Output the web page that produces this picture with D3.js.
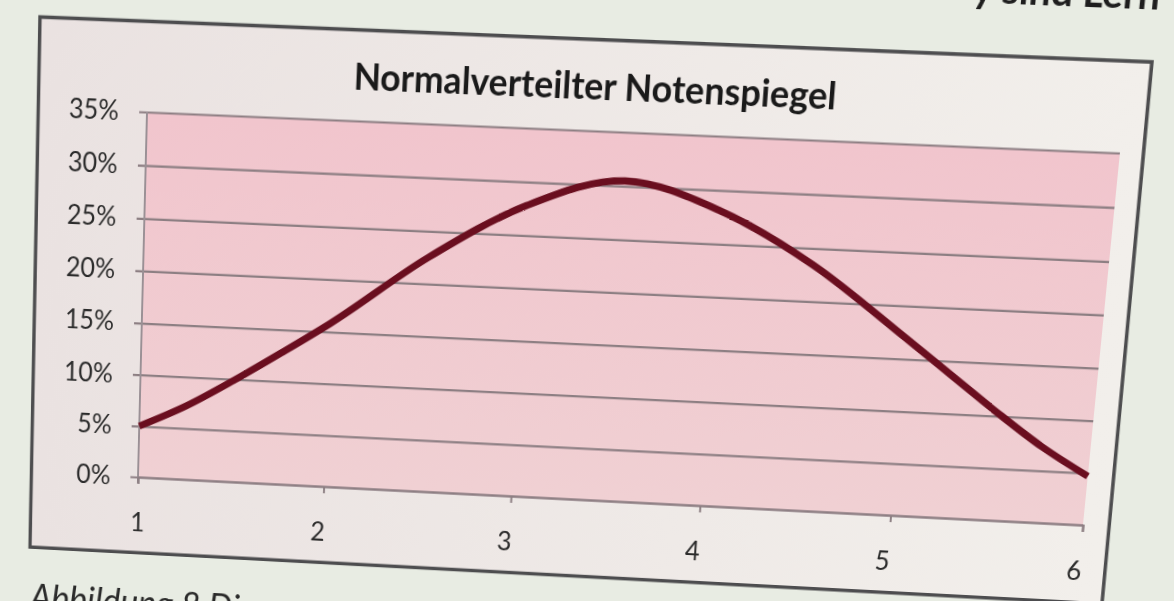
<!DOCTYPE html>
<html>
<head>
<meta charset="utf-8">
<script src="https://cdn.jsdelivr.net/npm/d3@7/dist/d3.min.js"></script>
<style>
  html, body { margin:0; padding:0; width:1174px; height:601px; overflow:hidden; background:#e8ece3; }
  #chart { position:absolute; left:0; top:0; transform-origin:0 0; overflow:visible; }
  text { font-family: Lato, "Open Sans", sans-serif; }
</style>
</head>
<body>
<svg id="chart" width="1174" height="640"></svg>
<script>
// ---------------- data ----------------
const chartTitle = "Normalverteilter Notenspiegel";
const grades = [1, 1.25, 1.5, 1.75, 2, 2.5, 3, 3.5, 4, 4.5, 5, 5.25, 5.5, 5.75, 6];
const shares = [0.050, 0.072, 0.099, 0.128, 0.158, 0.225, 0.278, 0.305, 0.281, 0.234, 0.170, 0.137, 0.104, 0.073, 0.047];
const xTicks = [1, 2, 3, 4, 5, 6];
const yTicks = [0, 0.05, 0.10, 0.15, 0.20, 0.25, 0.30, 0.35];
const pageTextTop = "y sind Lern";
const pageTextBottom = "Abbildung 8 Di";

// ---------------- layout (flat) ----------------
const plot = { x0: 147, y0: 112, x1: 1120, y1: 477 };
// photo corners of plot area (perspective of the photograph)
const plotPhoto = [[147,112],[1120,153],[1083,525],[138,477]];
const framePhoto = [[40,17],[1152,62],[1102,604],[30,547]];

function solve(A, b) {
  const n = b.length;
  for (let i = 0; i < n; i++) {
    let p = i;
    for (let r = i+1; r < n; r++) if (Math.abs(A[r][i]) > Math.abs(A[p][i])) p = r;
    [A[i], A[p]] = [A[p], A[i]]; [b[i], b[p]] = [b[p], b[i]];
    for (let r = i+1; r < n; r++) {
      const f = A[r][i] / A[i][i];
      for (let c = i; c < n; c++) A[r][c] -= f * A[i][c];
      b[r] -= f * b[i];
    }
  }
  const x = new Array(n).fill(0);
  for (let i = n-1; i >= 0; i--) {
    let s = b[i];
    for (let c = i+1; c < n; c++) s -= A[i][c] * x[c];
    x[i] = s / A[i][i];
  }
  return x;
}
function homography(src, dst) {
  const A = [], b = [];
  for (let i = 0; i < 4; i++) {
    const [x,y] = src[i], [u,v] = dst[i];
    A.push([x,y,1,0,0,0,-u*x,-u*y]); b.push(u);
    A.push([0,0,0,x,y,1,-v*x,-v*y]); b.push(v);
  }
  return solve(A, b);
}
function apply(h, [x,y]) {
  const w = h[6]*x + h[7]*y + 1;
  return [(h[0]*x + h[1]*y + h[2]) / w, (h[3]*x + h[4]*y + h[5]) / w];
}
const plotFlat = [[plot.x0,plot.y0],[plot.x1,plot.y0],[plot.x1,plot.y1],[plot.x0,plot.y1]];
const H = homography(plotFlat, plotPhoto);
const Hinv = homography(plotPhoto, plotFlat);
const inv = p => apply(Hinv, p);

const svgEl = document.getElementById("chart");
svgEl.style.transform = `matrix3d(${H[0]},${H[3]},0,${H[6]},${H[1]},${H[4]},0,${H[7]},0,0,1,0,${H[2]},${H[5]},0,1)`;

const svg = d3.select(svgEl);
const defs = svg.append("defs");
const gArea = defs.append("linearGradient").attr("id","areaGrad").attr("x1","0").attr("y1","0").attr("x2","1").attr("y2","0");
gArea.append("stop").attr("offset","0").attr("stop-color","#eae2e1");
gArea.append("stop").attr("offset","1").attr("stop-color","#f2efeb");
const gPlot = defs.append("linearGradient").attr("id","plotGrad").attr("x1","0").attr("y1","0").attr("x2","0").attr("y2","1");
gPlot.append("stop").attr("offset","0").attr("stop-color","#f1c5cd");
gPlot.append("stop").attr("offset","1").attr("stop-color","#f0d0d3");

// chart area frame
const frameFlat = framePhoto.map(inv);
svg.append("polygon").attr("points", frameFlat.map(p => p.join(",")).join(" "))
  .attr("fill", "url(#areaGrad)").attr("stroke", "#4d4d4f").attr("stroke-width", 3.5);

// page texts (cut off at the photo edges, as in the photograph)
const tTop = inv([972, 2]);
svg.append("text").attr("x", tTop[0]).attr("y", tTop[1])
  .attr("font-size", 38).attr("font-weight", 700).attr("fill", "#1e1e1e").text(pageTextTop);
const tBot = inv([30, 609]);
svg.append("text").attr("x", tBot[0]).attr("y", tBot[1])
  .attr("font-size", 36).attr("font-style", "italic")
  .attr("fill", "#2a2a2a").text(pageTextBottom);

// scales
const x = d3.scaleLinear().domain([1, 6]).range([plot.x0, plot.x1]);
const y = d3.scaleLinear().domain([0, 0.35]).range([plot.y1, plot.y0]);

// plot area
svg.append("rect").attr("x", plot.x0).attr("y", plot.y0)
  .attr("width", plot.x1 - plot.x0).attr("height", plot.y1 - plot.y0)
  .attr("fill", "url(#plotGrad)");

// gridlines + y axis
const yAxis = d3.axisLeft(y).tickValues(yTicks).tickSize(-(plot.x1 - plot.x0))
  .tickFormat(d3.format(".0%")).tickPadding(29);
const gy = svg.append("g").attr("transform", `translate(${plot.x0},0)`).call(yAxis);
gy.select(".domain").remove();
gy.selectAll(".tick line").attr("stroke", "#8d7f83").attr("stroke-width", 2.2).attr("x2", plot.x1 - plot.x0).attr("x1", -8);
gy.selectAll(".tick text").attr("font-size", 26).attr("fill", "#2b2b2b").attr("font-family", "Lato, sans-serif");

// y axis line
svg.append("line").attr("x1", plot.x0).attr("x2", plot.x0).attr("y1", plot.y0).attr("y2", plot.y1 + 6)
  .attr("stroke", "#9a9095").attr("stroke-width", 2);

// x axis
const xAxis = d3.axisBottom(x).tickValues(xTicks).tickSize(7).tickPadding(31).tickFormat(d3.format("d"));
const gx = svg.append("g").attr("transform", `translate(0,${plot.y1})`).call(xAxis);
gx.select(".domain").attr("stroke", "#8d7f83").attr("stroke-width", 2.2);
gx.selectAll(".tick line").attr("stroke", "#8d7f83").attr("stroke-width", 2);
gx.selectAll(".tick text").attr("font-size", 26).attr("fill", "#2b2b2b").attr("font-family", "Lato, sans-serif")
  .attr("dx", d => d === 1 ? 0 : -5);

// curve
const line = d3.line().x((d, i) => x(grades[i])).y(d => y(d)).curve(d3.curveMonotoneX);
svg.append("path").datum(shares).attr("d", line)
  .attr("fill", "none").attr("stroke", "#6a0e1f").attr("stroke-width", 7).attr("stroke-linecap", "butt");

// title
const tp = inv([593, 99]);
const title = svg.append("text").attr("x", tp[0]).attr("y", tp[1]).attr("text-anchor", "middle")
  .attr("font-size", 30).attr("font-weight", 700).attr("fill", "#1a1a1a").text(chartTitle);
const w = title.node().getComputedTextLength();
title.attr("font-size", 30 * 482 / w);
</script>
</body>
</html>
